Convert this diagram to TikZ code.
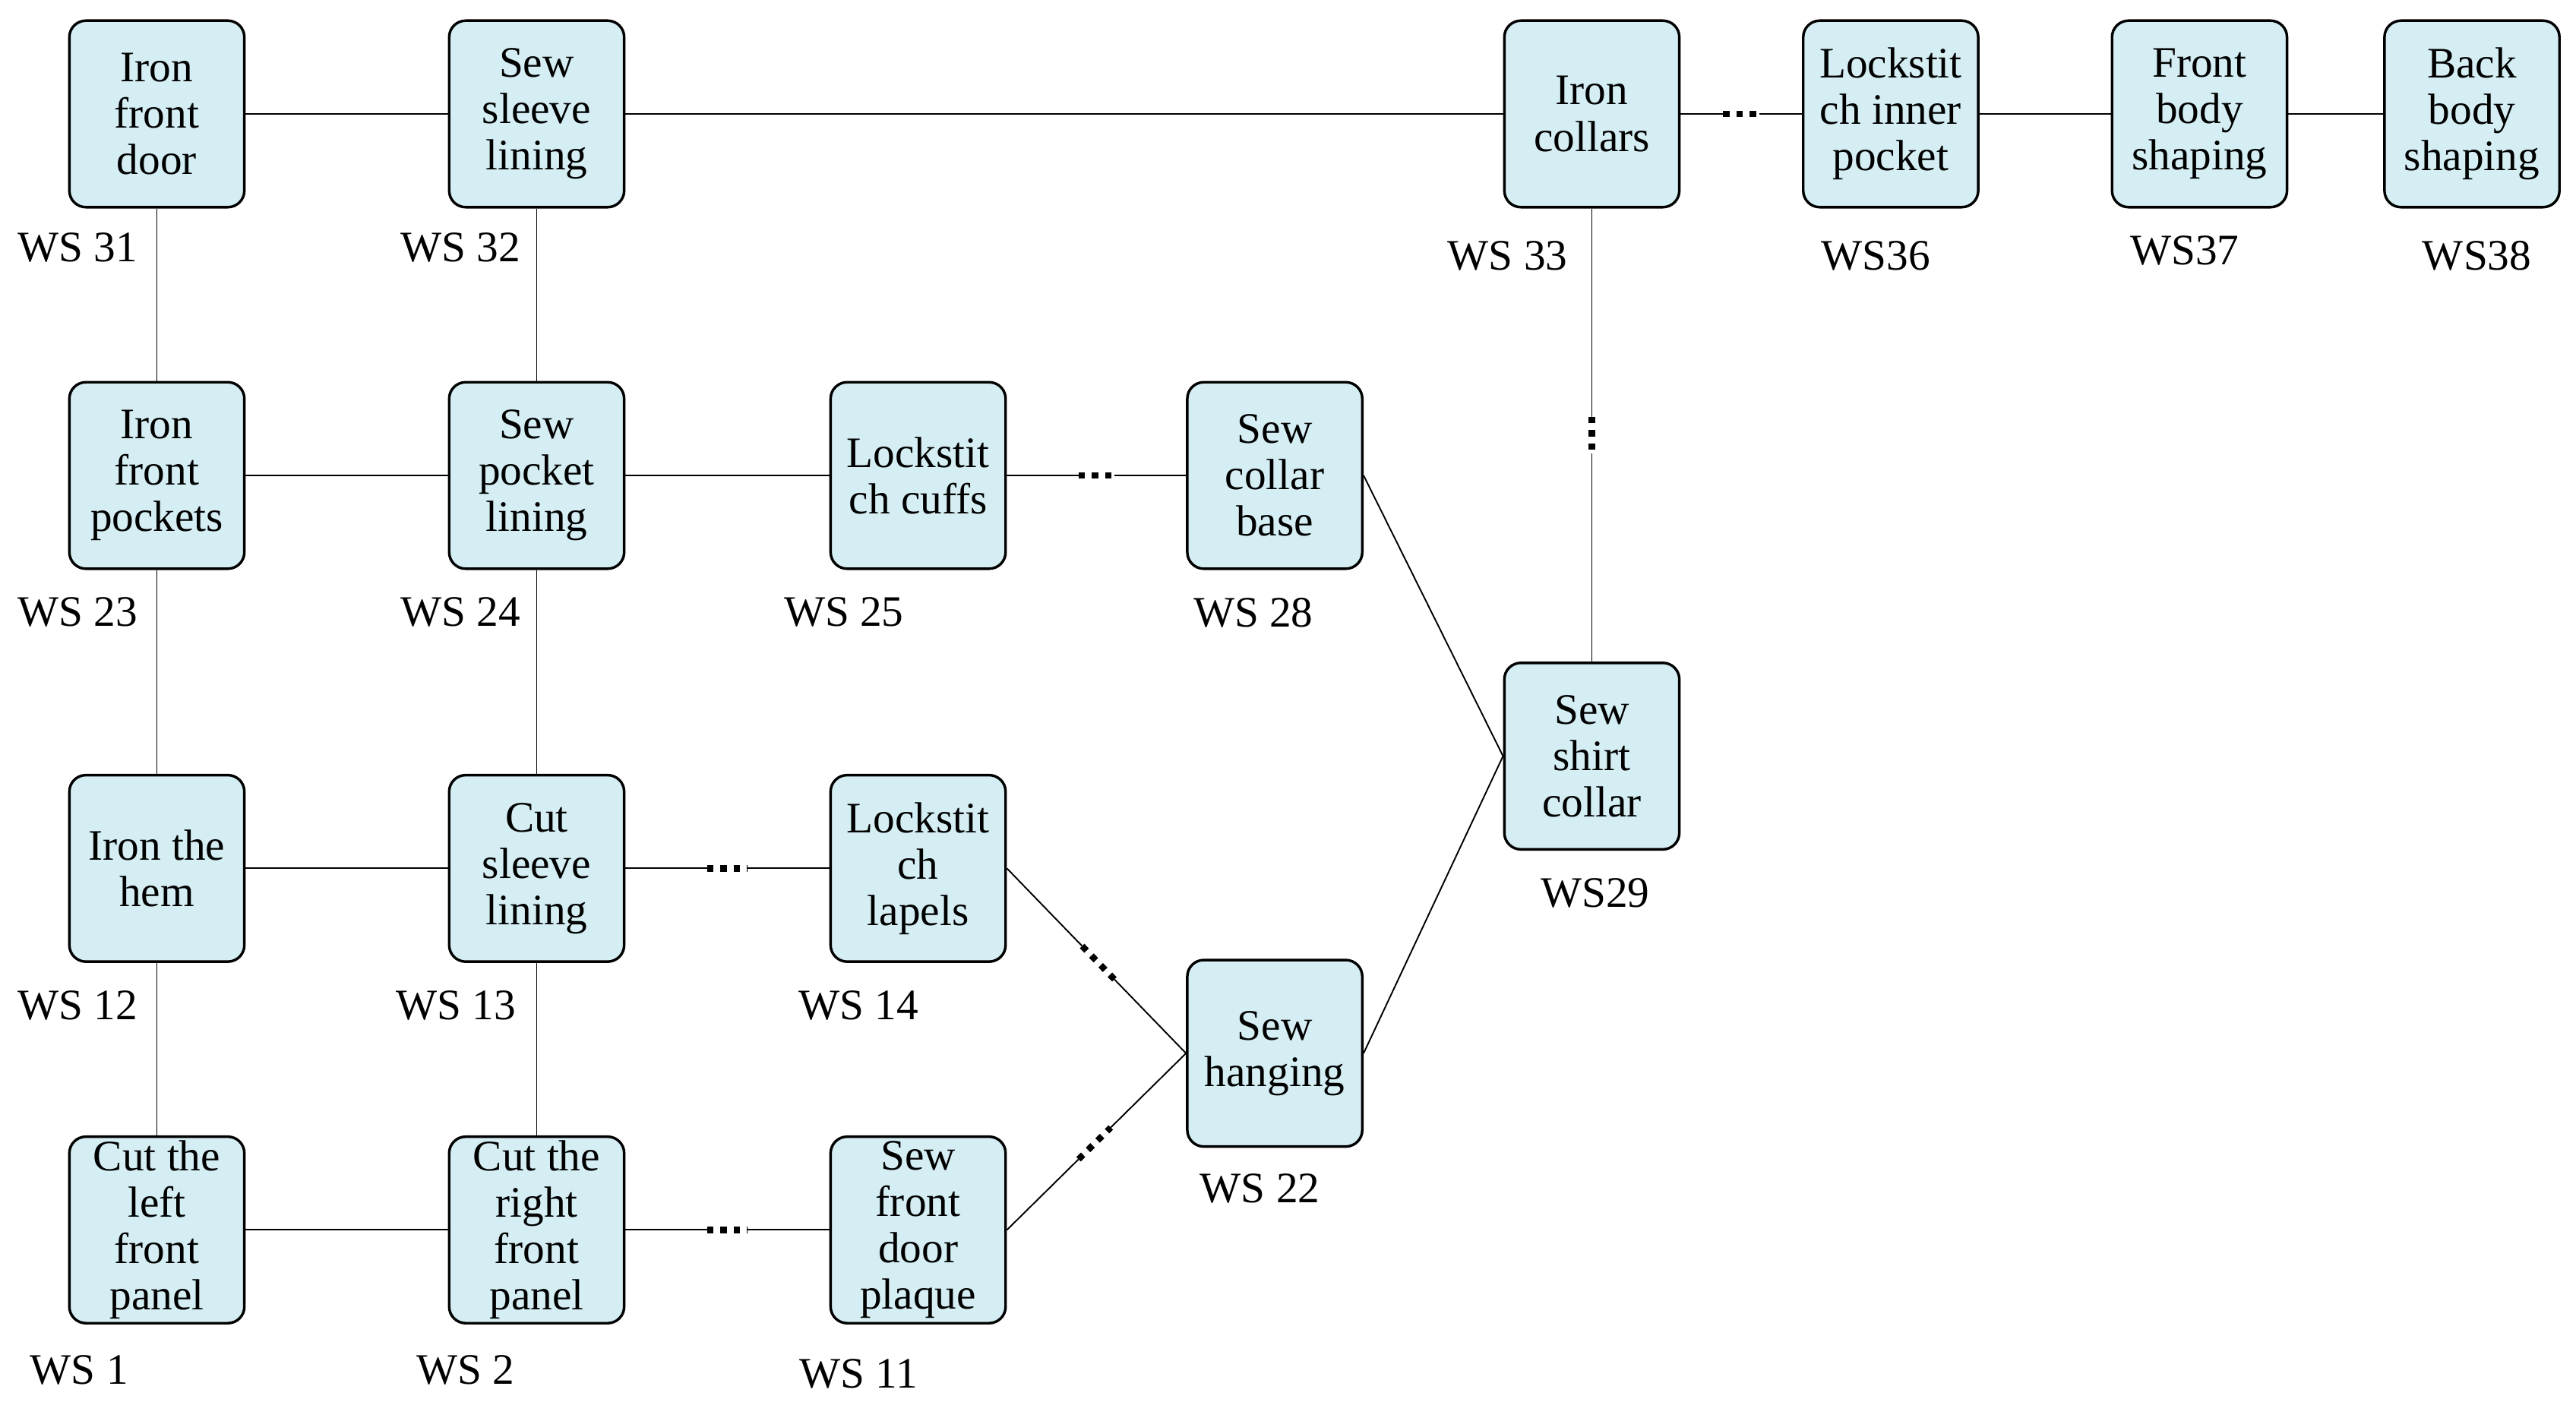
\documentclass[tikz,border=0pt]{standalone}
\usepackage{fontspec}
\setmainfont{Liberation Serif}
\begin{document}
\begin{tikzpicture}[x=0.02cm,y=-0.02cm,
  box/.style={draw,line width=0.9pt,rounded corners=0.2cm,fill={rgb,255:red,212;green,238;blue,243},minimum width=2.12cm,minimum height=2.26cm,align=center,inner sep=0pt,font=\fontsize{15}{16}\selectfont},
  lab/.style={font=\fontsize{15}{18}\selectfont},
  every path/.style={line width=0.5pt}]
\newcommand\dotline[4]{%
  \draw (#1) -- (#2) coordinate[pos=#3] (dp) coordinate[pos=#4] (dq);
  \draw[white,line width=3pt] (dp) -- (dq);
  \draw[line width=2.2pt,dash pattern=on 2.2pt off 2.4pt] (dp) -- (dq);}
\useasboundingbox (0,0) rectangle (1560,849);
\node[box] (a31) at (95,69) {Iron\\front\\door};
\node[box] (a32) at (325,69) {Sew\\sleeve\\lining};
\node[box] (a33) at (964,69) {Iron\\collars};
\node[box] (a36) at (1145,69) {Lockstit\\ch inner\\pocket};
\node[box] (a37) at (1332,69) {Front\\body\\shaping};
\node[box] (a38) at (1497,69) {Back\\body\\shaping};
\node[box] (a23) at (95,288) {Iron\\front\\pockets};
\node[box] (a24) at (325,288) {Sew\\pocket\\lining};
\node[box] (a25) at (556,288) {Lockstit\\ch cuffs};
\node[box] (a28) at (772,288) {Sew\\collar\\base};
\node[box] (a29) at (964,458) {Sew\\shirt\\collar};
\node[box] (a12) at (95,526) {Iron the\\hem};
\node[box] (a13) at (325,526) {Cut\\sleeve\\lining};
\node[box] (a14) at (556,526) {Lockstit\\ch\\lapels};
\node[box] (a22) at (772,638) {Sew\\hanging};
\node[box] (a1) at (95,745) {Cut the\\left\\front\\panel};
\node[box] (a2) at (325,745) {Cut the\\right\\front\\panel};
\node[box] (a11) at (556,745) {Sew\\front\\door\\plaque};
\foreach \t/\x/\y in {WS 31/47/150,WS 32/279/150,WS 33/913/155,WS36/1136/155,WS37/1323/152,WS38/1500/155,WS 23/47/371,WS 24/279/371,WS 25/511/371,WS 28/759/371,WS29/966/541,WS 12/47/609,WS 13/276/609,WS 14/520/609,WS 22/763/720,WS 1/48/830,WS 2/282/830,WS 11/520/832}
  \node[lab] at (\x,\y) {\t};
\draw (a31) -- (a32); \draw (a32) -- (a33); \draw (a36) -- (a37); \draw (a37) -- (a38);
\dotline{a33}{a36}{0.35}{0.65}
\draw (a31) -- (a23); \draw (a32) -- (a24);
\draw (a23) -- (a24); \draw (a24) -- (a25);
\dotline{a25}{a28}{0.4}{0.6}
\dotline{a33}{a29}{0.46}{0.54}
\draw (a28.east) -- (a29.west); \draw (a22.east) -- (a29.west);
\draw (a23) -- (a12); \draw (a24) -- (a13);
\draw (a12) -- (a13);
\dotline{a13}{a14}{0.4}{0.6}
\dotline{a14.east}{a22.west}{0.42}{0.6}
\dotline{a11.east}{a22.west}{0.4}{0.58}
\draw (a12) -- (a1); \draw (a13) -- (a2);
\draw (a1) -- (a2);
\dotline{a2}{a11}{0.4}{0.6}
\end{tikzpicture}
\end{document}
